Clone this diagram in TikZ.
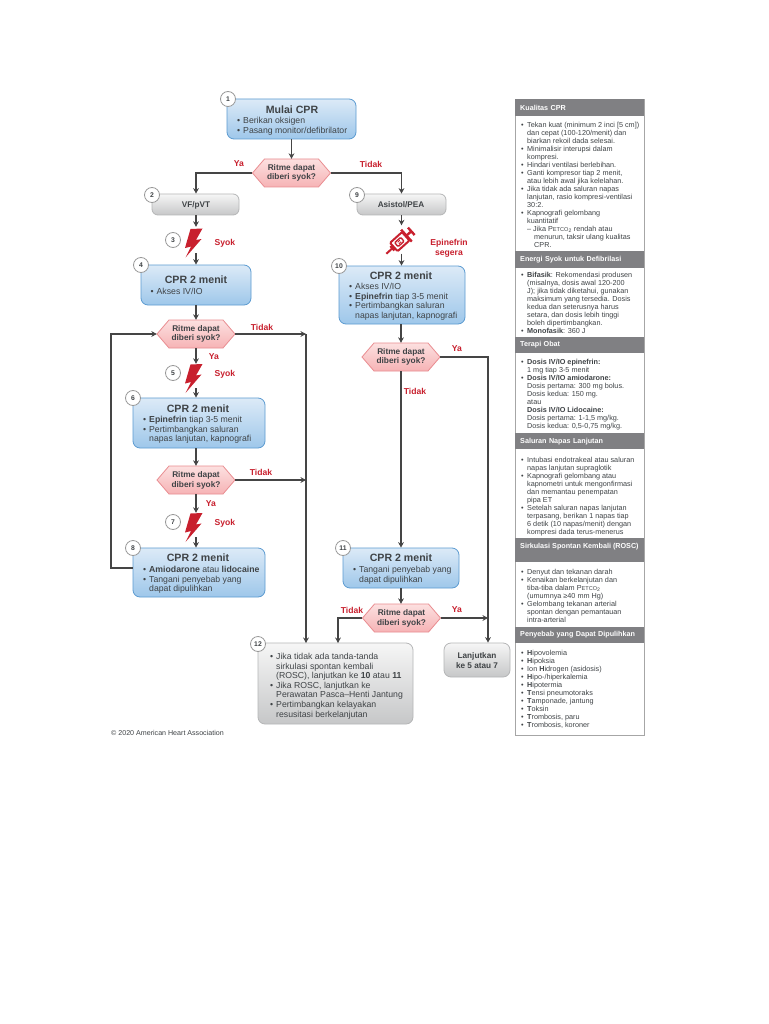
\documentclass[tikz,border=0pt]{standalone}
\usepackage{fontspec}
\setmainfont{Liberation Sans}
\usetikzlibrary{arrows.meta}
\definecolor{ink}{HTML}{3F4346}
\definecolor{lineC}{HTML}{454545}
\definecolor{redT}{HTML}{C8202E}
\definecolor{headG}{HTML}{808083}
\definecolor{blue1}{HTML}{DCEAF7}
\definecolor{blue2}{HTML}{9EC7EA}
\definecolor{blueE}{HTML}{5C9BD1}
\definecolor{grey1}{HTML}{F6F6F6}
\definecolor{grey2}{HTML}{C6C7C8}
\definecolor{greyE}{HTML}{B5B6B7}
\definecolor{pink1}{HTML}{FCE0E0}
\definecolor{pink2}{HTML}{F6B3B5}
\definecolor{pinkE}{HTML}{E98C90}
\newcommand{\bu}[1]{\makebox[6pt][l]{\textbullet}#1}
\newcommand{\cn}[1]{\hspace*{6pt}#1}
\newcommand{\ptc}{P{\fontsize{5.6}{6}\selectfont ETCO}\textsubscript{2}}
\tikzset{
 bluebox/.style={draw=blueE,rounded corners=7pt,line width=.8pt,top color=blue1,bottom color=blue2,inner sep=0pt},
 greybox/.style={draw=greyE,rounded corners=7pt,line width=.8pt,top color=grey1,bottom color=grey2,inner sep=0pt},
 hexfill/.style={draw=pinkE,line width=.8pt,top color=pink1,bottom color=pink2},
 hexa/.style={rectangle,minimum width=78pt,minimum height=28pt,inner sep=0pt,font=\fontsize{8.3}{9.7}\selectfont\bfseries,text=ink,align=center},
 num/.style={circle,draw=gray!80,fill=white,line width=.8pt,minimum size=15pt,inner sep=0pt,font=\fontsize{6.8}{7}\selectfont\bfseries,text=ink},
 ttl/.style={font=\fontsize{10.6}{12}\selectfont\bfseries,text=ink,inner sep=0pt},
 body/.style={font=\fontsize{8.7}{9.6}\selectfont,text=ink,align=left,anchor=north west,inner sep=0pt},
 glab/.style={font=\fontsize{8.2}{9.6}\selectfont\bfseries,text=ink,align=center,inner sep=0pt},
 rl/.style={font=\fontsize{8.6}{10}\selectfont\bfseries,text=redT,align=center,inner sep=0pt},
 conn/.style={draw=lineC,line width=1.2pt,-{Stealth[length=5.5pt,width=5.8pt]}},
 boltspace/.style={inner sep=0pt,minimum width=18pt,minimum height=24pt},
 sideh/.style={fill=headG,text=white,font=\fontsize{7.2}{8}\selectfont\bfseries,inner sep=0pt,anchor=north west,minimum width=129pt,text width=125pt,align=left},
 side/.style={font=\fontsize{7.25}{8}\selectfont,text=ink,align=left,anchor=north west,inner sep=0pt},
}
\newcommand{\boltat}[2]{\fill[redT,shift={(#1,#2)}] (-5.5,-14)--(6.5,-14.5)--(0,-3)--(5.5,-4)--(-10.5,14.5)--(-5,3.5)--(-11,5)--cycle;}
\newcommand{\hexnode}[3]{%
 \path[hexfill] (#2-39,#3)--(#2-27,#3-14)--(#2+27,#3-14)--(#2+39,#3)--(#2+27,#3+14)--(#2-27,#3+14)--cycle;
 \node[hexa] (#1) at (#2,#3) {Ritme dapat\\diberi syok?};}
\begin{document}
\begin{tikzpicture}[x=1pt,y=-1pt]
\useasboundingbox (0,0) rectangle (768,1024);
\fill[white] (0,0) rectangle (768,1024);

% boxes
\node[bluebox,minimum width=129pt,minimum height=40pt] (b1) at (291.5,119) {};
\hexnode{d1}{291.5}{173}
\node[greybox,minimum width=87pt,minimum height=21pt,rounded corners=6pt] (b2) at (195.5,204.5) {};
\node[greybox,minimum width=89pt,minimum height=21pt,rounded corners=6pt] (b9) at (401.5,204.5) {};
\node[boltspace,minimum height=26pt] (z3) at (196,240) {};
\node[boltspace,minimum height=28pt] (z9) at (401.5,239.5) {};
\node[bluebox,minimum width=110pt,minimum height=40pt] (b4) at (196,285) {};
\node[bluebox,minimum width=126pt,minimum height=58pt] (b10) at (402,295) {};
\hexnode{d2}{196}{334}
\hexnode{d3}{401}{357}
\node[boltspace] (z5) at (196,376) {};
\node[bluebox,minimum width=132pt,minimum height=50pt] (b6) at (199,423) {};
\hexnode{d4}{196}{480}
\node[boltspace] (z7) at (196,525) {};
\node[bluebox,minimum width=132pt,minimum height=49pt] (b8) at (199,572.5) {};
\node[bluebox,minimum width=116pt,minimum height=40pt] (b11) at (401,568) {};
\hexnode{d5}{401.5}{618}
\node[greybox,minimum width=155pt,minimum height=81pt] (b12) at (335.5,683.5) {};
\node[greybox,minimum width=66pt,minimum height=34pt] (b13) at (477,660) {};

% junctions
\coordinate (loopA) at (111,568);
\coordinate (loopB) at (111,334);
\coordinate (trA) at (306,334);
\coordinate (trB) at (306,480);
\coordinate (trC) at (306,643);
\coordinate (rA) at (488,357);
\coordinate (rB) at (488,618);
\coordinate (d5a) at (338,618);
\coordinate (d5b) at (338,643);
\coordinate (tA) at (196,173);
\coordinate (tB) at (401.5,173);

% connectors
\draw[conn] (b1.south) -- (d1.north);
\draw[conn] (d1.west) -- (tA) -- (tA |- b2.north);
\draw[conn] (d1.east) -- (tB) -- (tB |- b9.north);
\draw[conn] (z3.north |- b2.south) -- (z3.north);
\draw[conn] (z3.south) -- (b4.north);
\draw[conn] (b9.south) -- (z9.north);
\draw[conn] (z9.south) -- (z9.south |- b10.north);
\draw[conn] (b4.south) -- (d2.north);
\draw[conn] (d2.south) -- (z5.north);
\draw[conn] (z5.south) -- (z5.south |- b6.north);
\draw[conn] (d2.south |- b6.south) -- (d4.north);
\draw[conn] (d4.south) -- (z7.north);
\draw[conn] (z7.south) -- (z7.south |- b8.north);
\draw[conn] (b8.west |- loopA) -- (loopA) -- (loopB) -- (d2.west);
\draw[conn] (d2.east) -- (trA);
\draw[conn] (trA) -- (trC);
\draw[conn] (d4.east) -- (trB);
\draw[conn] (d3.north |- b10.south) -- (d3.north);
\draw[conn] (d3.south) -- (d3.south |- b11.north);
\draw[conn] (b11.south) -- (b11.south |- d5.north);
\draw[conn] (d3.east) -- (rA) -- (rA |- b13.north);
\draw[conn] (d5.east) -- (rB);
\draw[conn] (d5.west) -- (d5a) -- (d5b);

% bolts
\boltat{196}{243}
\boltat{196}{378.5}
\boltat{196}{527.5}

% syringe
\begin{scope}[shift={(400.5,241)},rotate=42]
 \draw[redT,line width=2pt] (-19,0) -- (-10,0);
 \fill[redT] (-12,-3) rectangle (-8,3);
 \draw[redT,line width=2pt,fill=white,rounded corners=1pt] (-9,-5.6) rectangle (7,5.6);
 \draw[redT,line width=1.4pt,rounded corners=1pt] (-5.5,-2.6) rectangle (2.5,2.6);
 \draw[redT,line width=.9pt] (-3,-1) -- (0,-1) (-3,1) -- (0,1);
 \draw[redT,line width=2.4pt] (8,-8) -- (8,8);
 \draw[redT,line width=2.4pt] (8,0) -- (14,0);
 \draw[redT,line width=2.4pt] (14.5,-5) -- (14.5,5);
\end{scope}

% box texts
\node[ttl] (t1) at (292,110) {Mulai CPR};
\node[body] (x1) at (237,117) {\bu{Berikan oksigen}\\\bu{Pasang monitor/defibrilator}};
\node[glab] (t2) at (196,205) {VF/pVT};
\node[glab] (t9) at (401,205) {Asistol/PEA};
\node[ttl] (t4) at (196,280) {CPR 2 menit};
\node[body] (x4) at (150.5,288) {\bu{Akses IV/IO}};
\node[ttl] (t10) at (401,276) {CPR 2 menit};
\node[body] (x10) at (349,283) {\bu{Akses IV/IO}\\\bu{\textbf{Epinefrin} tiap 3-5 menit}\\\bu{Pertimbangkan saluran}\\\cn{napas lanjutan, kapnografi}};
\node[ttl] (t6) at (198,409) {CPR 2 menit};
\node[body] (x6) at (143,416) {\bu{\textbf{Epinefrin} tiap 3-5 menit}\\\bu{Pertimbangkan saluran}\\\cn{napas lanjutan, kapnografi}};
\node[ttl] (t8) at (198,558) {CPR 2 menit};
\node[body] (x8) at (143,566) {\bu{\textbf{Amiodarone} atau \textbf{lidocaine}}\\\bu{Tangani penyebab yang}\\\cn{dapat dipulihkan}};
\node[ttl] (t11) at (401,558) {CPR 2 menit};
\node[body] (x11) at (353,566) {\bu{Tangani penyebab yang}\\\cn{dapat dipulihkan}};
\node[body] (x12) at (270,653) {\bu{Jika tidak ada tanda-tanda}\\\cn{sirkulasi spontan kembali}\\\cn{(ROSC), lanjutkan ke \textbf{10} atau \textbf{11}}\\\bu{Jika ROSC, lanjutkan ke}\\\cn{Perawatan Pasca–Henti Jantung}\\\bu{Pertimbangkan kelayakan}\\\cn{resusitasi berkelanjutan}};
\node[glab] (t13) at (477,660.5) {Lanjutkan\\ke 5 atau 7};

% number badges
\node[num] (n1) at (228,99) {1};
\node[num] (n2) at (152,195) {2};
\node[num] (n3) at (173,240) {3};
\node[num] (n4) at (141,265) {4};
\node[num] (n9) at (357,195) {9};
\node[num] (n10) at (339,266) {10};
\node[num] (n5) at (173,373) {5};
\node[num] (n6) at (133,398) {6};
\node[num] (n7) at (173,522) {7};
\node[num] (n8) at (133,548) {8};
\node[num] (n11) at (343,548) {11};
\node[num] (n12) at (258,644) {12};

% red labels
\node[rl] (l1) at (239,164) {Ya};
\node[rl] (l2) at (371,164) {Tidak};
\node[rl] (l3) at (225,243) {Syok};
\node[rl] (l4) at (449,248) {Epinefrin\\segera};
\node[rl] (l5) at (262,327) {Tidak};
\node[rl] (l6) at (214,357) {Ya};
\node[rl] (l7) at (225,374) {Syok};
\node[rl] (l8) at (415,391) {Tidak};
\node[rl] (l9) at (457,349) {Ya};
\node[rl] (l10) at (261,472) {Tidak};
\node[rl] (l11) at (211,504) {Ya};
\node[rl] (l12) at (225,523) {Syok};
\node[rl] (l13) at (352,610) {Tidak};
\node[rl] (l14) at (457,610) {Ya};

\node[font=\fontsize{7.1}{8}\selectfont,text=ink,anchor=west,inner sep=0pt] (foot) at (111,733) {© 2020 American Heart Association};

% sidebar
\node[draw=gray!70,fill=white,line width=.8pt,anchor=north west,minimum width=129pt,minimum height=636pt,inner sep=0pt] (sb) at (515,99) {};
\node[sideh,minimum height=17pt] (h1) at (515,99) {\hspace*{3pt}Kualitas CPR};
\node[side] (s1) at (521,122) {\bu{Tekan kuat (minimum 2 inci [5 cm])}\\\cn{dan cepat (100-120/menit) dan}\\\cn{biarkan rekoil dada selesai.}\\\bu{Minimalisir interupsi dalam}\\\cn{kompresi.}\\\bu{Hindari ventilasi berlebihan.}\\\bu{Ganti kompresor tiap 2 menit,}\\\cn{atau lebih awal jika kelelahan.}\\\bu{Jika tidak ada saluran napas}\\\cn{lanjutan, rasio kompresi-ventilasi}\\\cn{30:2.}\\\bu{Kapnografi gelombang}\\\cn{kuantitatif}\\\cn{– Jika \ptc\ rendah atau}\\\cn{\hspace*{7pt}menurun, taksir ulang kualitas}\\\cn{\hspace*{7pt}CPR.}};
\node[sideh,minimum height=17pt] (h2) at (515,250.5) {\hspace*{3pt}Energi Syok untuk Defibrilasi};
\node[side] (s2) at (521,272) {\bu{\textbf{Bifasik}: Rekomendasi produsen}\\\cn{(misalnya, dosis awal 120-200}\\\cn{J); jika tidak diketahui, gunakan}\\\cn{maksimum yang tersedia. Dosis}\\\cn{kedua dan seterusnya harus}\\\cn{setara, dan dosis lebih tinggi}\\\cn{boleh dipertimbangkan.}\\\bu{\textbf{Monofasik}: 360 J}};
\node[sideh,minimum height=15.5pt] (h3) at (515,337) {\hspace*{3pt}Terapi Obat};
\node[side] (s3) at (521,359) {\bu{\textbf{Dosis IV/IO epinefrin:}}\\\cn{1 mg tiap 3-5 menit}\\\bu{\textbf{Dosis IV/IO amiodarone:}}\\\cn{Dosis pertama: 300 mg bolus.}\\\cn{Dosis kedua: 150 mg.}\\\cn{atau}\\\cn{\textbf{Dosis IV/IO Lidocaine:}}\\\cn{Dosis pertama: 1-1,5 mg/kg.}\\\cn{Dosis kedua: 0,5-0,75 mg/kg.}};
\node[sideh,minimum height=16pt] (h4) at (515,433) {\hspace*{3pt}Saluran Napas Lanjutan};
\node[side] (s4) at (521,457) {\bu{Intubasi endotrakeal atau saluran}\\\cn{napas lanjutan supraglotik}\\\bu{Kapnografi gelombang atau}\\\cn{kapnometri untuk mengonfirmasi}\\\cn{dan memantau penempatan}\\\cn{pipa ET}\\\bu{Setelah saluran napas lanjutan}\\\cn{terpasang, berikan 1 napas tiap}\\\cn{6 detik (10 napas/menit) dengan}\\\cn{kompresi dada terus-menerus}};
\node[sideh,minimum height=24pt] (h5) at (515,538) {};
\node[font=\fontsize{7.2}{8}\selectfont\bfseries,text=white,anchor=west,inner sep=0pt] (h5t) at (520,547) {Sirkulasi Spontan Kembali (ROSC)};
\node[side] (s5) at (521,569) {\bu{Denyut dan tekanan darah}\\\bu{Kenaikan berkelanjutan dan}\\\cn{tiba-tiba dalam \ptc}\\\cn{(umumnya ≥40 mm Hg)}\\\bu{Gelombang tekanan arterial}\\\cn{spontan dengan pemantauan}\\\cn{intra-arterial}};
\node[sideh,minimum height=15.5pt] (h6) at (515,627) {\hspace*{3pt}Penyebab yang Dapat Dipulihkan};
\node[side] (s6) at (521,650) {\bu{\textbf{H}ipovolemia}\\\bu{\textbf{H}ipoksia}\\\bu{Ion \textbf{H}idrogen (asidosis)}\\\bu{\textbf{H}ipo-/hiperkalemia}\\\bu{\textbf{H}ipotermia}\\\bu{\textbf{T}ensi pneumotoraks}\\\bu{\textbf{T}amponade, jantung}\\\bu{\textbf{T}oksin}\\\bu{\textbf{T}rombosis, paru}\\\bu{\textbf{T}rombosis, koroner}};
\end{tikzpicture}
\end{document}
